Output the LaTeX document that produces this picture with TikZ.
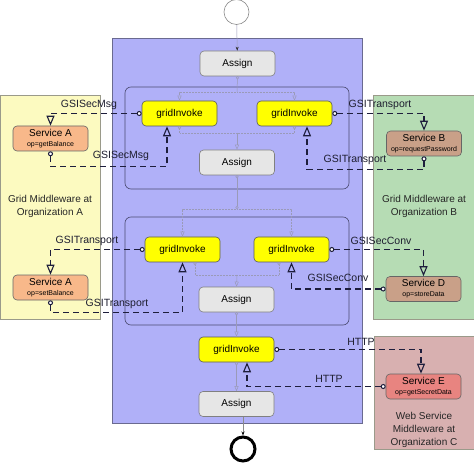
\documentclass[tikz,border=0pt]{standalone}
\usepackage{fontspec}
\setmainfont{Liberation Sans}
\usetikzlibrary{arrows.meta}
\definecolor{mainbg}{HTML}{B0B0F8}
\definecolor{mainbd}{HTML}{6A6A90}
\definecolor{innerbd}{HTML}{4A4A70}
\definecolor{panelA}{HTML}{FCFAC0}
\definecolor{panelB}{HTML}{B6DCB4}
\definecolor{panelC}{HTML}{D8B0B0}
\definecolor{panelbd}{HTML}{9A9A8A}
\definecolor{giyellow}{HTML}{FFFF00}
\definecolor{asggray}{HTML}{E6E6E6}
\definecolor{svcA}{HTML}{F8B88A}
\definecolor{svcB}{HTML}{C9A088}
\definecolor{svcE}{HTML}{E88480}
\definecolor{conncol}{HTML}{1E1E3C}
\definecolor{lblcol}{HTML}{1E1E30}
\definecolor{flowcol}{HTML}{9A9AB8}
\begin{document}
\begin{tikzpicture}[x=1pt,y=-1pt,
  font=\fontsize{10}{12}\selectfont,
  box/.style={rounded corners=4pt, minimum width=75pt, minimum height=25pt, inner sep=0pt, line width=0.6pt},
  gi/.style={box, fill=giyellow, draw=black!65},
  asg/.style={box, fill=asggray, draw=black!50},
  svc/.style={box, align=center, draw=black!60},
  small/.style={font=\fontsize{7}{8}\selectfont},
  conn/.style={draw=conncol, line width=1.3pt, dash pattern=on 6pt off 4pt,
     {Circle[length=5pt,fill=white,line width=1pt]}-{Triangle[open,length=10pt,width=8pt,line width=1.1pt]}},
  lbl/.style={font=\fontsize{10.5}{12}\selectfont, text=lblcol, inner sep=0pt},
  flow/.style={draw=flowcol, line width=0.5pt},
  flowd/.style={flow, densely dotted},
  ptext/.style={align=center, font=\fontsize{10}{13}\selectfont, text=black!85}
]
\useasboundingbox (0,0) rectangle (474,465);

% side panels
\fill[panelA, draw=panelbd, line width=0.5pt] (0,95) rectangle (100,319);
\fill[panelB, draw=panelbd, line width=0.5pt] (373,95) rectangle (477,319);
\fill[panelC, draw=panelbd, line width=0.5pt] (374,336) rectangle (477,449);
\node[ptext] (txtA) at (50,206.5) {Grid Middleware at\\Organization A};
\node[ptext] (txtB) at (424,206.5) {Grid Middleware at\\Organization B};
\node[ptext] (txtC) at (424,430) {Web Service\\Middleware at\\Organization C};

% main container
\fill[mainbg, draw=mainbd, line width=0.6pt] (112,38) rectangle (362,423);
\draw[innerbd, line width=0.6pt, rounded corners=6pt] (125,87) rectangle (349,189);
\draw[innerbd, line width=0.6pt, rounded corners=6pt] (125,217) rectangle (349,325);

% process nodes
\node[circle, draw=black!45, fill=white, minimum size=25pt, inner sep=0pt, line width=0.6pt] (start) at (236.5,12) {};
\node[asg] (assign1) at (237.5,63.5) {Assign};
\node[gi] (gi1) at (179.5,113.5) {gridInvoke};
\node[gi] (gi2) at (294.5,113.5) {gridInvoke};
\node[asg] (assign2) at (237,162.5) {Assign};
\node[gi] (gi3) at (182.5,249.5) {gridInvoke};
\node[gi] (gi4) at (291.5,249.5) {gridInvoke};
\node[asg] (assign3) at (236.5,299.5) {Assign};
\node[gi] (gi5) at (236.5,349.5) {gridInvoke};
\node[asg] (assign4) at (236.5,404) {Assign};
\node[circle, draw=black, fill=white, minimum size=24pt, inner sep=0pt, line width=3pt] (end) at (243,449) {};

% services
\node[svc, fill=svcA] (svcA1) at (50.5,138.5) {Service A\\[-2pt]{\fontsize{7}{8}\selectfont op=getBalance}};
\node[svc, fill=svcA] (svcA2) at (50.5,287.5) {Service A\\[-2pt]{\fontsize{7}{8}\selectfont op=setBalance}};
\node[svc, fill=svcB] (svcB) at (424,143.5) {Service B\\[-2pt]{\fontsize{7}{8}\selectfont op=requestPassword}};
\node[svc, fill=svcB] (svcD) at (423.5,289) {Service D\\[-2pt]{\fontsize{7}{8}\selectfont op=storeData}};
\node[svc, fill=svcE] (svcE) at (423.5,386.5) {Service E\\[-2pt]{\fontsize{7}{8}\selectfont op=getSecretData}};

% flow coordinates
\coordinate (split1) at (237,92);
\coordinate (join1) at (237,133);
\coordinate (split2) at (237,209);
\coordinate (join2) at (237,275);

% control flow
\draw[flow, -{Stealth[length=4pt,width=3pt,black!80]}] (start) -- (assign1);
\draw[flow, {Circle[open,length=3pt]}-] (assign1.south) -- (split1);
\draw[flowd, -{Triangle[open,length=5pt,width=4pt]}] (split1) -| (gi1.north);
\draw[flowd, -{Triangle[open,length=5pt,width=4pt]}] (split1) -| (gi2.north);
\draw[flowd, {Circle[open,length=3pt]}-] (gi1.south) |- (join1);
\draw[flowd, {Circle[open,length=3pt]}-] (gi2.south) |- (join1);
\draw[flow, -{Triangle[open,length=5pt,width=4pt]}] (join1) -- (assign2.north);
\draw[flow, {Circle[open,length=3pt]}-{Circle[open,length=3pt]}] (assign2.south) -- (split2);
\draw[flowd, -{Triangle[open,length=5pt,width=4pt]}] (split2) -| (gi3.north);
\draw[flowd, -{Triangle[open,length=5pt,width=4pt]}] (split2) -| (gi4.north);
\draw[flowd, {Circle[open,length=3pt]}-] ([xshift=12.5pt]gi3.south) |- (join2);
\draw[flowd, {Circle[open,length=3pt]}-] ([xshift=-12.5pt]gi4.south) |- (join2);
\draw[flow, -{Triangle[open,length=5pt,width=4pt]}] (join2) -- (assign3.north);
\draw[flow, {Circle[open,length=3pt]}-{Triangle[open,length=5pt,width=4pt]}] (assign3.south) -- (gi5.north);
\draw[flow, {Circle[open,length=3pt]}-{Triangle[open,length=5pt,width=4pt]}] (gi5.south) -- (assign4.north);
\draw[black!45, line width=0.8pt, -{Stealth[length=4pt,width=3pt,black]}] (assign4.south -| end.north) -- (end.north);

% service connectors
\draw[conn] (gi1.west) -| (svcA1.north);
\draw[conn] (svcA1.south) -- ++(0,15) -| ([xshift=-12.5pt]gi1.south);
\draw[conn] (gi2.east) -| (svcB.north);
\draw[conn] (svcB.south) -- ++(0,13) -| ([xshift=12.5pt]gi2.south);
\draw[conn] (gi3.west) -| (svcA2.north);
\draw[conn] (svcA2.south) -- ++(0,12) -| (gi3.south);
\draw[conn] (gi4.east) -| (svcD.north);
\draw[conn] (svcD.west) -| (gi4.south);
\draw[conn] (gi5.east) -| ([xshift=-2.5pt]svcE.north);
\draw[conn] (svcE.west) -| ([xshift=10.5pt]gi5.south);

% labels
\node[lbl] (l1) at (89,105) {GSISecMsg};
\node[lbl] (l2) at (121,156) {GSISecMsg};
\node[lbl] (l3) at (380,105) {GSITransport};
\node[lbl] (l4) at (355,160) {GSITransport};
\node[lbl] (l5) at (87,241) {GSITransport};
\node[lbl] (l6) at (117,304) {GSITransport};
\node[lbl] (l7) at (381,241) {GSISecConv};
\node[lbl] (l8) at (338,278) {GSISecConv};
\node[lbl] (l9) at (361,342) {HTTP};
\node[lbl] (l10) at (329,379) {HTTP};
\end{tikzpicture}
\end{document}
